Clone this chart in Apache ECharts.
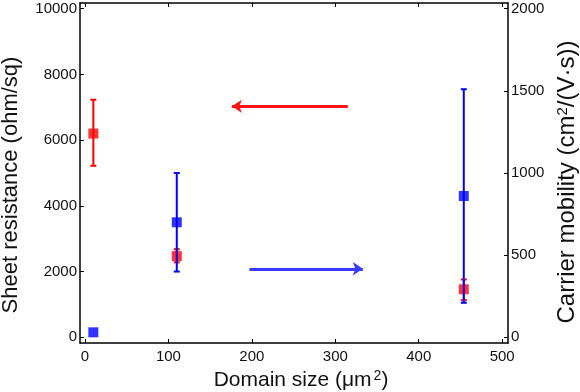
<!DOCTYPE html>
<html><head><meta charset="utf-8">
<script src="https://cdn.jsdelivr.net/npm/echarts@6/dist/echarts.min.js"></script>
<style>html,body{margin:0;padding:0;background:#fff}#c{width:580px;height:392px}</style>
</head><body><div id="c"></div>
<script>
const xValues = [10, 110, 454];
const resistance = [6200, 2470, 1460];
const resistanceLow = [5220, 2280, 1130];
const resistanceHigh = [7230, 2680, 1760];
const mobility = [30, 700, 860];
const mobilityLow = [null, 400, 210];
const mobilityHigh = [null, 1000, 1510];
const xTicks = [0, 100, 200, 300, 400, 500];
const leftTicks = [0, 2000, 4000, 6000, 8000, 10000];
const rightTicks = [0, 500, 1000, 1500, 2000];
const redArrow = [[315, 7030], [176, 7030]];
const blueArrow = [[197, 417], [333, 417]];

const FONT = 'Liberation Sans, Arial, sans-serif';
const RED = '#ff0000', BLUE = '#0000ff';

function errData(lo, hi) {
  const out = [];
  xValues.forEach((x, i) => { if (lo[i] != null) out.push([x, lo[i], hi[i]]); });
  return out;
}
function errRender(color) {
  return function (params, api) {
    const x = api.value(0);
    const p1 = api.coord([x, api.value(1)]);
    const p2 = api.coord([x, api.value(2)]);
    const w = 3;
    const st = { stroke: color, lineWidth: 2 };
    return { type: 'group', children: [
      { type: 'line', shape: { x1: p1[0], y1: p1[1], x2: p2[0], y2: p2[1] }, style: st },
      { type: 'line', shape: { x1: p1[0]-w, y1: p1[1], x2: p1[0]+w, y2: p1[1] }, style: st },
      { type: 'line', shape: { x1: p2[0]-w, y1: p2[1], x2: p2[0]+w, y2: p2[1] }, style: st }
    ]};
  };
}
const axisLine = { show: true, onZero: false, lineStyle: { color: '#000', width: 1.5 } };
const labelStyle = { color: '#111', fontSize: 15, fontFamily: FONT, formatter: v => String(v) };

const chart = echarts.init(document.getElementById('c'), null, { renderer: 'canvas' });
chart.setOption({
  animation: false,
  grid: { left: 80, right: 72, top: 3, bottom: 49, containLabel: false, outerBoundsMode: 'none' },
  xAxis: [{
    type: 'value', min: -6, max: 507, position: 'bottom',
    axisLine, splitLine: { show: false },
    axisTick: { show: true, inside: true, length: 4, customValues: xTicks, lineStyle: { color: '#000' } },
    axisLabel: Object.assign({ customValues: xTicks, margin: 6 }, labelStyle),
    name: '{a|Domain size (μm}{s|2}{a|)}', nameLocation: 'middle', nameGap: 26,
    nameTextStyle: { padding: [0, 0, 0, 14], rich: {
      a: { fontSize: 21, fontFamily: FONT, color: '#111' },
      s: { fontSize: 14, fontFamily: FONT, color: '#111', verticalAlign: 'top', padding: [0, 0, 8, 2] }
    } }
  }, {
    type: 'value', min: -6, max: 507, position: 'top',
    axisLine, splitLine: { show: false },
    axisTick: { show: true, inside: true, length: 4, customValues: xTicks, lineStyle: { color: '#000' } },
    axisLabel: { show: false }
  }],
  yAxis: [{
    type: 'value', min: -175, max: 10175, position: 'left',
    axisLine, splitLine: { show: false },
    axisTick: { show: true, inside: true, length: 4, customValues: leftTicks, lineStyle: { color: '#000' } },
    axisLabel: Object.assign({ customValues: leftTicks, margin: 3 }, labelStyle),
    name: 'Sheet resistance (ohm/sq)', nameLocation: 'middle', nameGap: 58,
    nameTextStyle: { fontSize: 22, fontFamily: FONT, color: '#111', padding: [0, 24, 0, 0] }
  }, {
    type: 'value', min: -35, max: 2035, position: 'right',
    axisLine, splitLine: { show: false },
    axisTick: { show: true, inside: true, length: 4, customValues: rightTicks, lineStyle: { color: '#000' } },
    axisLabel: Object.assign({ customValues: rightTicks, margin: 3 }, labelStyle),
    name: '{a|Carrier mobility (cm}{s|2}{a|/(V·s))}', nameLocation: 'middle', nameGap: 46,
    nameTextStyle: { padding: [0, 18, 0, 0], rich: {
      a: { fontSize: 24, fontFamily: FONT, color: '#111' },
      s: { fontSize: 15, fontFamily: FONT, color: '#111', verticalAlign: 'top', padding: [0, 0, 9, 0] }
    } }
  }],
  series: [{
    type: 'custom', xAxisIndex: 0, yAxisIndex: 0, z: 2,
    renderItem: errRender(RED), data: errData(resistanceLow, resistanceHigh), silent: true
  }, {
    type: 'scatter', xAxisIndex: 0, yAxisIndex: 0, z: 3,
    symbol: 'rect', symbolSize: 10, itemStyle: { color: RED },
    data: xValues.map((x, i) => [x, resistance[i]]),
    markLine: {
      silent: true, symbol: ['none', 'arrow'], symbolSize: [10, 10],
      label: { show: false },
      lineStyle: { color: '#ff1414', width: 3, type: 'solid' },
      data: [[{ coord: redArrow[0] }, { coord: redArrow[1] }]]
    }
  }, {
    type: 'custom', xAxisIndex: 0, yAxisIndex: 1, z: 4,
    renderItem: errRender(BLUE), data: errData(mobilityLow, mobilityHigh), silent: true
  }, {
    type: 'scatter', xAxisIndex: 0, yAxisIndex: 1, z: 5,
    symbol: 'rect', symbolSize: 10, itemStyle: { color: BLUE },
    data: xValues.map((x, i) => [x, mobility[i]]),
    markLine: {
      silent: true, symbol: ['none', 'arrow'], symbolSize: [10, 10],
      label: { show: false },
      lineStyle: { color: '#3a3aff', width: 3, type: 'solid' },
      data: [[{ coord: blueArrow[0] }, { coord: blueArrow[1] }]]
    }
  }]
});
</script></body></html>
